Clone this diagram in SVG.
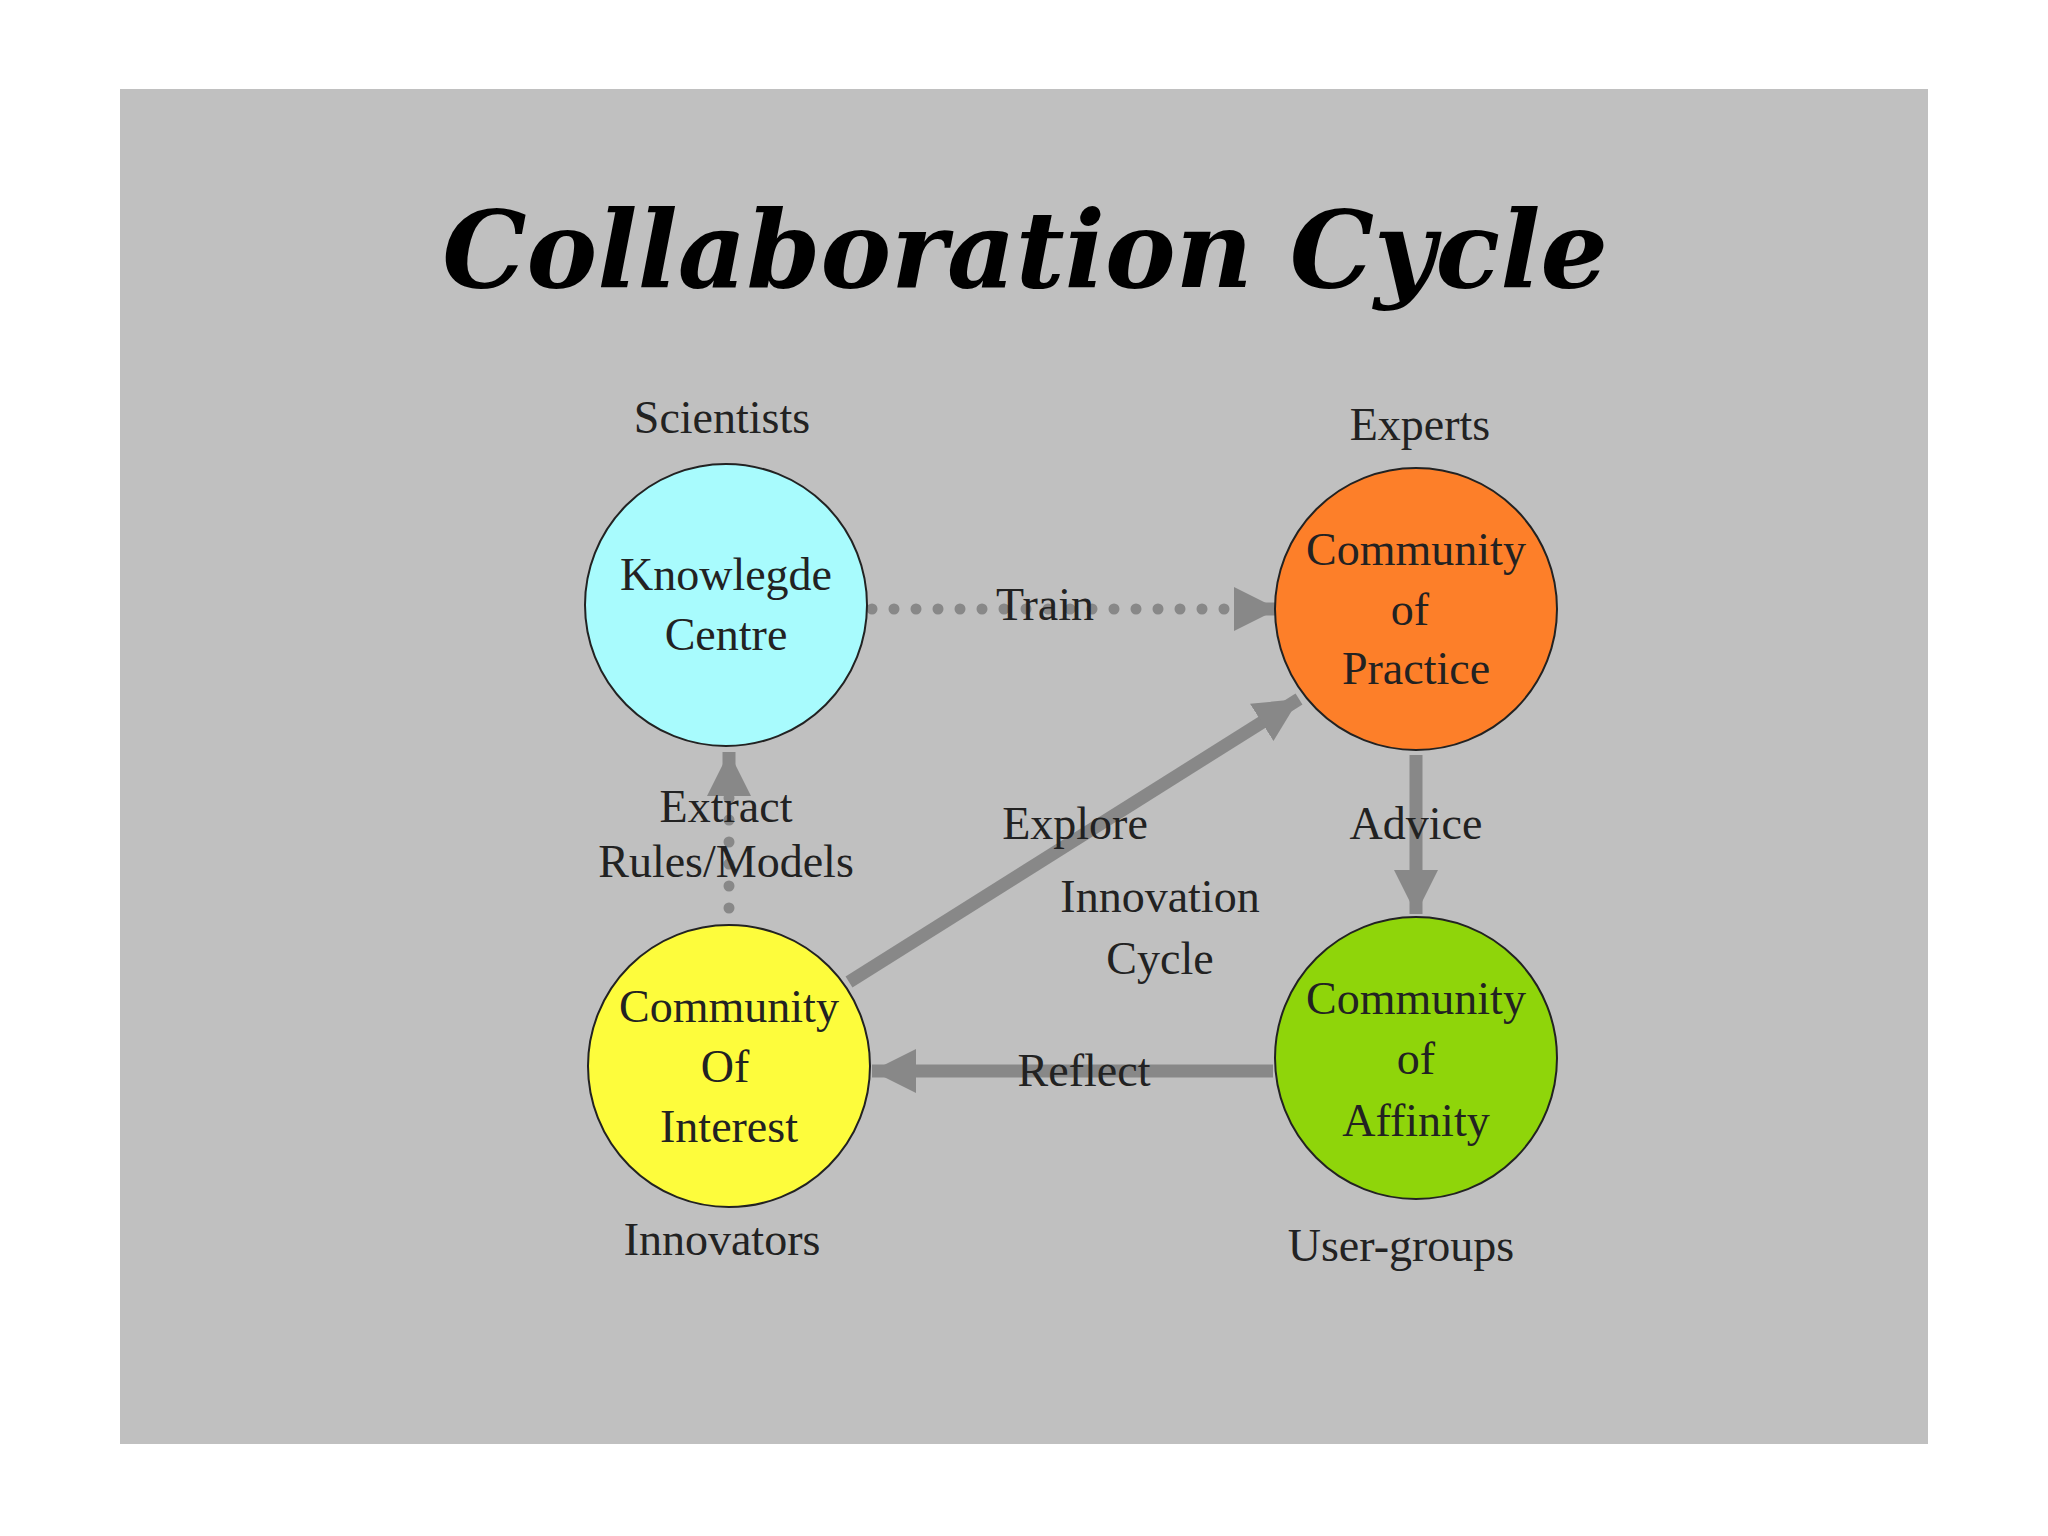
<svg xmlns="http://www.w3.org/2000/svg" width="2048" height="1536" viewBox="0 0 2048 1536">
<style>
.t{font-family:"Liberation Serif","Times New Roman",serif;font-size:46px;fill:#222;text-anchor:middle}
.c{stroke:#222;stroke-width:2}
.solid{stroke:#888;stroke-width:13;fill:none}
.dot{stroke:#888;stroke-width:11;fill:none;stroke-linecap:round;stroke-dasharray:0 22}
</style>
<defs>
<marker id="a" markerUnits="userSpaceOnUse" markerWidth="50" markerHeight="50" refX="44" refY="22" orient="auto"><path d="M0,0 L44,22 L0,44 Z" fill="#888"/></marker>
</defs>
<rect width="2048" height="1536" fill="#fff"/>
<rect x="120" y="89" width="1808" height="1355" fill="#c0c0c0"/>
<text x="1025" y="287" style="font-family:'DejaVu Serif',serif;font-style:italic;font-weight:bold;font-size:106px;text-anchor:middle;fill:#000">Collaboration Cycle</text>
<g id="connectors">
<path class="dot" d="M872,609 L1240,609"/><path d="M1240,609 L1278,609" class="solid" marker-end="url(#a)" stroke-width="1"/>
<path class="dot" d="M729,908 L729,790"/><path d="M729,790 L729,752" class="solid" marker-end="url(#a)" stroke-width="1"/>
<path class="solid" d="M849,982 L1299,699" marker-end="url(#a)"/>
<path class="solid" d="M1416,755 L1416,914" marker-end="url(#a)"/>
<path class="solid" d="M1273,1071 L872,1071" marker-end="url(#a)"/>
</g>
<g id="kc"><circle class="c" cx="726" cy="605" r="141" fill="#a8fbfd"/><text class="t" x="726" y="590">Knowlegde</text><text class="t" x="726" y="650">Centre</text></g>
<g id="cop"><circle class="c" cx="1416" cy="609" r="141" fill="#fd7f29"/><text class="t" x="1416" y="565">Community</text><text class="t" x="1410" y="625">of</text><text class="t" x="1416" y="684">Practice</text></g>
<g id="coi"><circle class="c" cx="729" cy="1066" r="141" fill="#fdfc3c"/><text class="t" x="729" y="1022">Community</text><text class="t" x="725" y="1082">Of</text><text class="t" x="729" y="1142">Interest</text></g>
<g id="coa"><circle class="c" cx="1416" cy="1058" r="141" fill="#8fd50a"/><text class="t" x="1416" y="1014">Community</text><text class="t" x="1416" y="1074">of</text><text class="t" x="1416" y="1136">Affinity</text></g>
<g id="labels">
<text class="t" x="722" y="433">Scientists</text>
<text class="t" x="1420" y="440">Experts</text>
<text class="t" x="722" y="1255">Innovators</text>
<text class="t" x="1401" y="1261">User-groups</text>
<text class="t" x="1045" y="620">Train</text>
<text class="t" x="726" y="822">Extract</text>
<text class="t" x="726" y="877">Rules/Models</text>
<text class="t" x="1075" y="839">Explore</text>
<text class="t" x="1160" y="912">Innovation</text>
<text class="t" x="1160" y="974">Cycle</text>
<text class="t" x="1416" y="839">Advice</text>
<text class="t" x="1084" y="1086">Reflect</text>
</g>
</svg>
